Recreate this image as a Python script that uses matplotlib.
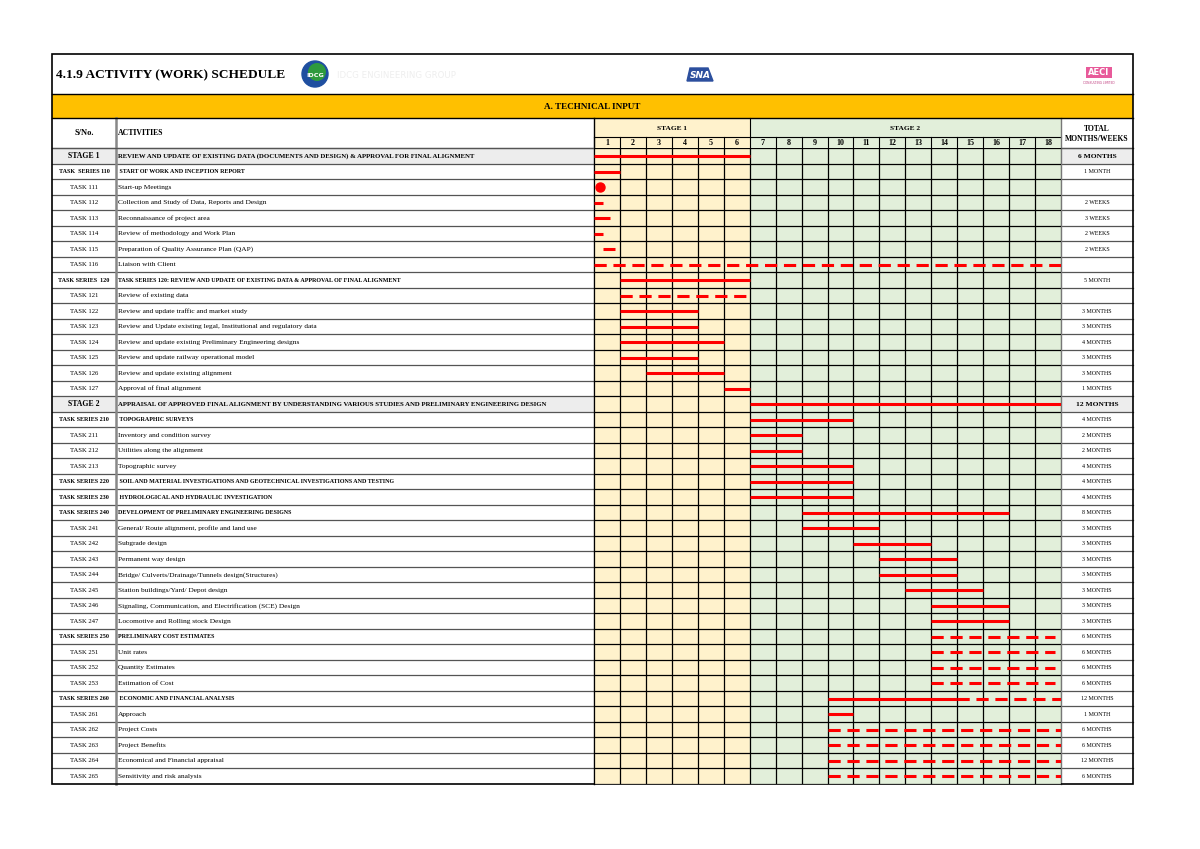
import matplotlib.pyplot as plt
from matplotlib.patches import Rectangle, Circle, Polygon

plt.rcParams['font.family'] = ['Liberation Serif', 'DejaVu Serif']

# ---- table data ----
sno = ["STAGE 1", "TASK  SERIES 110", "TASK 111", "TASK 112", "TASK 113", "TASK 114",
       "TASK 115", "TASK 116", "TASK SERIES  120", "TASK 121", "TASK 122", "TASK 123",
       "TASK 124", "TASK 125", "TASK 126", "TASK 127", "STAGE 2", "TASK SERIES 210",
       "TASK 211", "TASK 212", "TASK 213", "TASK SERIES 220", "TASK SERIES 230",
       "TASK SERIES 240", "TASK 241", "TASK 242", "TASK 243", "TASK 244", "TASK 245",
       "TASK 246", "TASK 247", "TASK SERIES 250", "TASK 251", "TASK 252", "TASK 253",
       "TASK SERIES 260", "TASK 261", "TASK 262", "TASK 263", "TASK 264", "TASK 265"]

activities = [
    "REVIEW AND UPDATE OF EXISTING DATA (DOCUMENTS AND DESIGN) & APPROVAL FOR FINAL ALIGNMENT",
    " START OF WORK AND INCEPTION REPORT",
    "Start-up Meetings",
    "Collection and Study of Data, Reports and Design",
    "Reconnaissance of project area",
    "Review of methodology and Work Plan",
    "Preparation of Quality Assurance Plan (QAP)",
    "Liaison with Client",
    "TASK SERIES 120: REVIEW AND UPDATE OF EXISTING DATA & APPROVAL OF FINAL ALIGNMENT",
    "Review of existing data",
    "Review and update traffic and market study",
    "Review and Update existing legal, Institutional and regulatory data",
    "Review and update existing Preliminary Engineering designs",
    "Review and update railway operational model",
    "Review and update existing alignment",
    "Approval of final alignment",
    "APPRAISAL OF APPROVED FINAL ALIGNMENT BY UNDERSTANDING VARIOUS STUDIES AND PRELIMINARY ENGINEERING DESIGN",
    " TOPOGRAPHIC SURVEYS",
    "Inventory and condition survey",
    "Utilities along the alignment",
    "Topographic survey",
    " SOIL AND MATERIAL INVESTIGATIONS AND GEOTECHNICAL INVESTIGATIONS AND TESTING",
    " HYDROLOGICAL AND HYDRAULIC INVESTIGATION",
    "DEVELOPMENT OF PRELIMINARY ENGINEERING DESIGNS",
    "General/ Route alignment, profile and land use",
    "Subgrade design",
    "Permanent way design",
    "Bridge/ Culverts/Drainage/Tunnels design(Structures)",
    "Station buildings/Yard/ Depot design",
    "Signaling, Communication, and Electrification (SCE) Design",
    "Locomotive and Rolling stock Design",
    "PRELIMINARY COST ESTIMATES",
    "Unit rates",
    "Quantity Estimates",
    "Estimation of Cost",
    " ECONOMIC AND FINANCIAL ANALYSIS",
    "Approach",
    "Project Costs",
    "Project Benefits",
    "Economical and Financial appraisal",
    "Sensitivity and risk analysis",
]

totals = ["6 MONTHS", "1 MONTH", "", "2 WEEKS", "3 WEEKS", "2 WEEKS", "2 WEEKS", "",
          "5 MONTH", "", "3 MONTHS", "3 MONTHS", "4 MONTHS", "3 MONTHS", "3 MONTHS",
          "1 MONTHS", "12 MONTHS", "4 MONTHS", "2 MONTHS", "2 MONTHS", "4 MONTHS",
          "4 MONTHS", "4 MONTHS", "8 MONTHS", "3 MONTHS", "3 MONTHS", "3 MONTHS",
          "3 MONTHS", "3 MONTHS", "3 MONTHS", "3 MONTHS", "6 MONTHS", "6 MONTHS",
          "6 MONTHS", "6 MONTHS", "12 MONTHS", "1 MONTH", "6 MONTHS", "6 MONTHS",
          "12 MONTHS", "6 MONTHS"]

months = list(range(1, 19))
stage1_months = 6

# bar segments (start / end in months from start of month 1)
seg_task = ["STAGE 1", "TASK  SERIES 110", "TASK 112", "TASK 113", "TASK 114", "TASK 115",
            "TASK 116", "TASK SERIES  120", "TASK 121", "TASK 122", "TASK 123", "TASK 124",
            "TASK 125", "TASK 126", "TASK 127", "STAGE 2", "TASK SERIES 210", "TASK 211",
            "TASK 212", "TASK 213", "TASK SERIES 220", "TASK SERIES 230", "TASK SERIES 240",
            "TASK 241", "TASK 242", "TASK 243", "TASK 244", "TASK 245", "TASK 246",
            "TASK 247", "TASK SERIES 250", "TASK 251", "TASK 252", "TASK 253",
            "TASK SERIES 260", "TASK SERIES 260", "TASK 261", "TASK 262", "TASK 263",
            "TASK 264", "TASK 265"]
seg_start = [0, 0, 0, 0, 0, 0.35, 0, 1, 1, 1, 1, 1, 1, 2, 5, 6, 6, 6, 6, 6, 6, 6, 8,
             8, 10, 11, 11, 12, 13, 13, 13, 13, 13, 13, 9, 14, 9, 9, 9, 9, 9]
seg_end = [6, 1, 0.35, 0.6, 0.35, 0.8, 18, 6, 6, 4, 4, 5, 4, 5, 6, 18, 10, 8, 8, 10, 10,
           10, 16, 11, 13, 14, 14, 15, 16, 16, 17.75, 17.75, 17.75, 17.75, 14, 18, 10, 18,
           18, 18, 18]
seg_dashed = [False, False, False, False, False, False, True, False, True, False, False,
              False, False, False, False, False, False, False, False, False, False, False,
              False, False, False, False, False, False, False, False, True, True, True, True,
              False, True, False, True, True, True, True]

milestone_task = ["TASK 111"]
milestone_pos = [0.23]

stage_rows = ["STAGE 1", "STAGE 2"]

# ---- layout (pixels) ----
W, H = 1200, 849
L, R, T, B = 52, 1133, 54, 784
C1, C2, C3 = 116, 594, 1061
Y_BAND, Y_HEAD, Y_NUM, Y_DATA = 94, 118, 137, 148.25
n = len(sno)
row_h = (B - Y_DATA) / n
yellow, green, gray = "#FFF2CC", "#E2EFDA", "#EDEDED"

fig = plt.figure(figsize=(12, 8.49), dpi=100)
base = fig.add_axes([0, 0, 1, 1])
base.set_xlim(0, W)
base.set_ylim(H, 0)
base.axis("off")

# title row
base.text(56, 75, "4.1.9 ACTIVITY (WORK) SCHEDULE", fontsize=9.6, fontweight="bold",
          va="center", ha="left")
base.add_patch(Circle((315, 74), 13, facecolor="#1f4fa0", edgecolor="#1f4fa0"))
base.add_patch(Circle((317, 72), 9, facecolor="#2e9a3e", edgecolor="none"))
base.text(315, 75, "IDCG", color="white", fontsize=4.6, fontweight="bold",
          ha="center", va="center", family="DejaVu Sans")
base.text(337, 75, "IDCG ENGINEERING GROUP", color="#eeeeee", fontsize=6.2,
          ha="left", va="center", family="DejaVu Sans")
base.add_patch(Polygon([[687, 81], [690, 68], [708, 68], [713, 81]], closed=True,
                       facecolor="#2c4f9e", edgecolor="#2c4f9e"))
base.text(700, 75, "SNA", color="white", fontsize=6.5, fontweight="bold", style="italic",
          ha="center", va="center", family="DejaVu Sans")
base.add_patch(Rectangle((1086, 67), 26, 11, facecolor="#e85a9a", edgecolor="none"))
base.text(1099, 72.5, "AECI", color="white", fontsize=6, fontweight="bold",
          ha="center", va="center", family="DejaVu Sans")
base.text(1099, 83, "CONSULTING LIMITED", color="#c04080", fontsize=2.2,
          ha="center", va="center", family="DejaVu Sans")

# technical input band
base.add_patch(Rectangle((L, Y_BAND), R - L, Y_HEAD - Y_BAND, facecolor="#FFC000",
                         edgecolor="none"))
base.text((L + R) / 2, 106.5, "A. TECHNICAL INPUT", fontsize=6.6, fontweight="bold",
          ha="center", va="center")

# header row
mw = (C3 - C2) / len(months)
split_x = C2 + stage1_months * mw
base.add_patch(Rectangle((C2, Y_HEAD), split_x - C2, Y_DATA - Y_HEAD, facecolor=yellow,
                         edgecolor="none"))
base.add_patch(Rectangle((split_x, Y_HEAD), C3 - split_x, Y_DATA - Y_HEAD, facecolor=green,
                         edgecolor="none"))
base.text((C1 + L) / 2, 133, "S/No.", fontsize=6, fontweight="bold", ha="center", va="center")
base.text(C1 + 2, 133, "ACTIVITIES", fontsize=5.6, fontweight="bold", ha="left", va="center")
base.text((C2 + split_x) / 2, 128, "STAGE 1", fontsize=5.3, fontweight="bold",
          ha="center", va="center")
base.text((split_x + C3) / 2, 128, "STAGE 2", fontsize=5.3, fontweight="bold",
          ha="center", va="center")
base.text((C3 + R) / 2, 128.5, "TOTAL", fontsize=5.5, fontweight="bold", ha="center", va="center")
base.text((C3 + R) / 2, 138.5, "MONTHS/WEEKS", fontsize=5.5, fontweight="bold",
          ha="center", va="center")
for i, m in enumerate(months):
    base.text(C2 + (i + 0.5) * mw, 143, str(m), fontsize=5.8, fontweight="bold",
              ha="center", va="center")
    base.plot([C2 + i * mw] * 2, [Y_NUM, Y_DATA], color="black", lw=0.8)
base.plot([C2, C3], [Y_NUM, Y_NUM], color="black", lw=0.8)
base.plot([split_x, split_x], [Y_HEAD, Y_NUM], color="black", lw=0.8)

# data rows, left and right columns
for i in range(n):
    yc = Y_DATA + (i + 0.5) * row_h
    y0 = Y_DATA + i * row_h
    is_stage = sno[i] in stage_rows
    is_series = sno[i].startswith("TASK") and "SERIES" in sno[i]
    if is_stage:
        base.add_patch(Rectangle((L, y0), C2 - L, row_h, facecolor=gray, edgecolor="none"))
        base.add_patch(Rectangle((C3, y0), R - C3, row_h, facecolor=gray, edgecolor="none"))
        s_fs, a_fs, t_fs, fw, tw = 5.6, 4.85, 5.4, "bold", "bold"
    elif is_series:
        s_fs, a_fs, t_fs, fw, tw = 4.4, 4.3, 4.3, "bold", "normal"
    else:
        s_fs, a_fs, t_fs, fw, tw = 4.8, 5.3, 4.3, "normal", "normal"
    base.text((L + C1) / 2, yc, sno[i], fontsize=s_fs, fontweight=fw, ha="center", va="center")
    base.text(C1 + 2, yc, activities[i], fontsize=a_fs, fontweight=fw, ha="left", va="center")
    base.text((C3 + R) / 2, yc, totals[i], fontsize=t_fs, fontweight=tw,
              ha="center", va="center")
    base.plot([L, C2], [y0, y0], color="#555555", lw=0.9)
    base.plot([C3, R], [y0, y0], color="#555555", lw=0.9)

# gantt area
gx = fig.add_axes([C2 / W, 1 - B / H, (C3 - C2) / W, (B - Y_DATA) / H])
gx.set_xlim(0, len(months))
gx.set_ylim(n, 0)
gx.axis("off")
gx.axvspan(0, stage1_months, color=yellow, zorder=0)
gx.axvspan(stage1_months, len(months), color=green, zorder=0)
for k in range(len(months) + 1):
    gx.axvline(k, color="black", lw=0.9, zorder=1)
for r in range(n + 1):
    gx.axhline(r, color="black", lw=0.9, zorder=1)

for task, s, e, d in zip(seg_task, seg_start, seg_end, seg_dashed):
    r = sno.index(task) + 0.5
    gx.plot([s, e], [r, r], color="red", lw=2.2, solid_capstyle="butt",
            dash_capstyle="butt", ls=(0, (4, 2.2)) if d else "-", zorder=3)
for task, p in zip(milestone_task, milestone_pos):
    r = sno.index(task) + 0.5
    gx.plot(p, r, "o", color="red", ms=6.5, zorder=3)

# vertical rules and frame
base.plot([C1, C1], [Y_HEAD, B], color="#888888", lw=1.8)
base.plot([C2, C2], [Y_HEAD, B], color="black", lw=1.0)
base.plot([C3, C3], [Y_HEAD, B], color="#777777", lw=1.0)
base.plot([L, R], [Y_BAND, Y_BAND], color="black", lw=1.0)
base.plot([L, R], [Y_HEAD, Y_HEAD], color="black", lw=1.0)
base.plot([L, C2], [Y_DATA, Y_DATA], color="#555555", lw=0.9)
base.plot([C3, R], [Y_DATA, Y_DATA], color="#555555", lw=0.9)
base.add_patch(Rectangle((L, T), R - L, B - T, facecolor="none", edgecolor="black", lw=1.2,
                         zorder=5))

fig.savefig("out.png", dpi=100)
